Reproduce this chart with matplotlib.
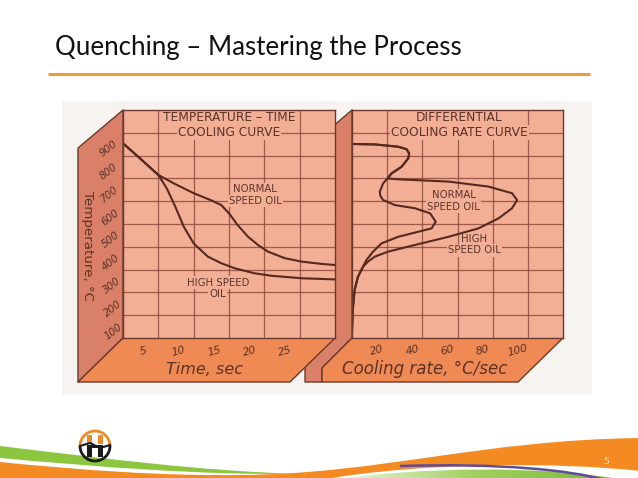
import matplotlib
matplotlib.use("Agg")
from matplotlib import pyplot as plt
from matplotlib.patches import Polygon, Rectangle, Arc, PathPatch
from matplotlib.path import Path
import numpy as np

W, H = 638, 478

# ---- data ----
time_ticks = [5, 10, 15, 20, 25]
rate_ticks = [20, 40, 60, 80, 100]
temp_ticks = [100, 200, 300, 400, 500, 600, 700, 800, 900]

# temperature-time curves (time s, temperature C)
normal_time = [0, 2.4, 5.0, 7.2, 10.0, 12.4, 13.9, 15.0, 16.2, 17.7, 19.1, 20.5, 22.9, 25.3, 28.1, 30]
normal_temp = [854, 788, 715, 678, 635, 605, 583, 547, 496, 444, 408, 379, 350, 335, 325, 320]
high_time = [0, 2.4, 5.0, 6.2, 7.4, 8.6, 10.0, 12.0, 13.9, 15.8, 18.6, 21.0, 25.3, 30]
high_temp = [854, 788, 715, 656, 576, 488, 415, 357, 328, 306, 284, 273, 262, 257]

# differential cooling rate curves (rate C/s, temperature C)
normal_rate = [0.6, 13, 26.3, 31, 32.5, 32, 28.2, 22.5, 20.2, 17.7, 15.8, 16.2, 17.7, 24.4, 35.8,
               44.4, 47.6, 45.3, 37.7, 26.3, 16.8, 12, 8.2, 6.3, 3.4, 1.5, 0.6, 0]
normal_rtemp = [851, 849, 839, 828, 810, 788, 751, 722, 700, 678, 642, 622, 605, 583, 569,
                547, 510, 481, 466, 444, 415, 379, 342, 313, 269, 211, 137, 35]
high_rate = [0.6, 13, 26.3, 31, 32.5, 32, 28.2, 22.5, 20.2, 26.3, 54.9, 77.7, 91, 93.9, 91, 83.4,
             72, 54.9, 35.8, 20.6, 13, 9.1, 6.3, 3.4, 1.5, 0.6, 0]
high_rtemp = [851, 849, 839, 828, 810, 788, 751, 722, 700, 696, 686, 664, 635, 605, 569, 525,
              481, 444, 408, 379, 357, 335, 313, 269, 211, 137, 35]

# ---- colours ----
back_c = "#F3AE96"
wall_c = "#DA8069"
floor_c = "#EF8A54"
edge_c = "#6B3A2C"
curve_c = "#55291F"
grid_c = "#8E4C3C"
text_c = "#5A3328"

fig = plt.figure(figsize=(W / 100, H / 100), dpi=100)
bg = fig.add_axes([0, 0, 1, 1])
bg.set_xlim(0, W)
bg.set_ylim(H, 0)
bg.axis("off")

# title
bg.text(55, 47, "Quenching \u2013 Mastering the Process", fontsize=18.6, family="Lato",
        color="#111111", va="center", ha="left")
bg.plot([48, 590], [74, 74], color="#EE9A3E", lw=2.2, solid_capstyle="butt")

# photo background
bg.add_patch(Rectangle((62, 101), 530, 294, facecolor="#F6F3F0", edgecolor="none"))


def poly(pts, fc):
    bg.add_patch(Polygon(pts, closed=True, facecolor=fc, edgecolor=edge_c, lw=1.0,
                         joinstyle="round"))


# right box (drawn first, partly hidden by the left one)
poly([(352, 110), (352, 338), (322, 368), (322, 382), (305, 382), (305, 150)], wall_c)
poly([(352, 338), (563, 338), (518, 382), (322, 382), (322, 368)], floor_c)
# left box
poly([(123, 110), (123, 338), (78, 382), (78, 148)], wall_c)
poly([(123, 338), (335, 338), (290, 382), (78, 382)], floor_c)


def panel(px0, px1, xmax, step):
    ax = fig.add_axes([px0 / W, (H - 338) / H, (px1 - px0) / W, 228 / H])
    ax.set_facecolor(back_c)
    ax.set_xlim(0, xmax)
    ax.set_ylim(0, 1000)
    ax.set_xticks(np.arange(step, xmax, step))
    ax.set_yticks(temp_ticks)
    ax.tick_params(length=0, labelbottom=False, labelleft=False)
    ax.grid(True, color=grid_c, lw=0.9, alpha=0.85)
    ax.set_axisbelow(True)
    for s in ax.spines.values():
        s.set_color(edge_c)
        s.set_linewidth(1.0)
    return ax


head = dict(fontsize=8.8, family="DejaVu Sans", color=text_c, ha="center", va="center",
            zorder=1.5, bbox=dict(facecolor=back_c, edgecolor="none", pad=0.8))
lab = dict(head, fontsize=7.3)

axl = panel(123, 335, 30, 5)
axl.plot(normal_time, normal_temp, color=curve_c, lw=1.5, solid_joinstyle="round")
axl.plot(high_time, high_temp, color=curve_c, lw=1.5, solid_joinstyle="round")
axl.text(15, 966, "TEMPERATURE \u2013 TIME", **head)
axl.text(15, 900, "COOLING CURVE", **head)
axl.text(18.7, 652, "NORMAL", **lab)
axl.text(18.7, 602, "SPEED OIL", **lab)
axl.text(13.4, 243, "HIGH SPEED", **lab)
axl.text(13.4, 195, "OIL", **lab)

axr = panel(352, 563, 120, 20)
axr.plot(normal_rate, normal_rtemp, color=curve_c, lw=1.5, solid_joinstyle="round")
axr.plot(high_rate, high_rtemp, color=curve_c, lw=1.5, solid_joinstyle="round")
axr.text(61, 966, "DIFFERENTIAL", **head)
axr.text(61, 900, "COOLING RATE CURVE", **head)
axr.text(57.7, 628, "NORMAL", **lab)
axr.text(57.7, 576, "SPEED OIL", **lab)
axr.text(69.7, 434, "HIGH", **lab)
axr.text(69.7, 384, "SPEED OIL", **lab)

# labels on the side wall
for v in temp_ticks:
    dx = -15 + (900 - v) / 800 * 5
    axl.annotate(str(v), xy=(0, v), xytext=(dx, -16), textcoords="offset pixels",
                 ha="center", va="center", rotation=38, fontsize=7.4, style="italic",
                 family="DejaVu Sans", color=text_c, annotation_clip=False)
bg.text(87, 246, "Temperature, \u00b0C", rotation=-90, fontsize=9.6, family="DejaVu Sans",
        color=text_c, ha="center", va="center")

# labels on the floors
for v in time_ticks:
    axl.annotate(str(v), xy=(v, 0), xytext=(-15, -13), textcoords="offset pixels",
                 ha="center", va="center", rotation=15, fontsize=7.8, style="italic",
                 family="DejaVu Sans", color=text_c, annotation_clip=False)
for v in rate_ticks:
    axr.annotate(str(v), xy=(v, 0), xytext=(-10, -12), textcoords="offset pixels",
                 ha="center", va="center", rotation=15, fontsize=7.8, style="italic",
                 family="DejaVu Sans", color=text_c, annotation_clip=False)
bg.text(205, 369, "Time, sec", fontsize=11.5, style="italic", family="DejaVu Sans",
        color=text_c, ha="center", va="center")
bg.text(425, 369, "Cooling rate, \u00b0C/sec", fontsize=12, style="italic",
        family="DejaVu Sans", color=text_c, ha="center", va="center")

# ---- footer swooshes ----
C4 = Path.CURVE4
green = Path([(0, 446), (100, 458), (200, 471), (300, 474),
              (200, 475), (100, 467), (0, 458), (0, 446)],
             [Path.MOVETO, C4, C4, C4, C4, C4, C4, Path.CLOSEPOLY])
bg.add_patch(PathPatch(green, facecolor="#8CC63F", edgecolor="none"))

orange = Path([(0, 462), (80, 470), (160, 476), (240, 475),
               (380, 474), (480, 440), (640, 438),
               (640, 471), (560, 462), (420, 462), (320, 480),
               (0, 480), (0, 462)],
              [Path.MOVETO, C4, C4, C4, C4, C4, C4, Path.LINETO, C4, C4, C4,
               Path.LINETO, Path.CLOSEPOLY])
bg.add_patch(PathPatch(orange, facecolor="#F38A22", edgecolor="none"))

green_r = Path([(330, 480), (420, 467), (540, 465), (625, 480), (330, 480)],
               [Path.MOVETO, C4, C4, C4, Path.CLOSEPOLY])
gp = PathPatch(green_r, facecolor="none", edgecolor="none")
bg.add_patch(gp)
grad = np.linspace(0, 1, 256).reshape(1, -1)
cmap = matplotlib.colors.LinearSegmentedColormap.from_list("g", ["#EEF6E2", "#A2CF5E", "#78B832"])
im = bg.imshow(grad, extent=(330, 625, 480, 464), aspect="auto", cmap=cmap, zorder=1)
im.set_clip_path(gp)

purple = Path([(400, 466), (500, 463), (570, 470), (605, 480)],
              [Path.MOVETO, C4, C4, C4])
bg.add_patch(PathPatch(purple, facecolor="none", edgecolor="#5E4B9C", lw=1.8, zorder=2))
bg.set_xlim(0, W)
bg.set_ylim(H, 0)

# logo
cx, cy, r = 95, 446, 15
bg.add_patch(Arc((cx, cy), 2 * r, 2 * r, theta1=180, theta2=360, color="#F08A24", lw=2))
bg.add_patch(Arc((cx, cy), 2 * r, 2 * r, theta1=0, theta2=180, color="#1A1A1A", lw=2))
bg.plot([cx - r, cx - 5, cx + 5, cx + r], [cy, cy - 3, cy + 2, cy - 1], color="#1A1A1A", lw=1.5)
bg.add_patch(Rectangle((cx - 8, cy - 11), 5, 9, facecolor="#F08A24", edgecolor="none"))
bg.add_patch(Rectangle((cx + 3, cy - 11), 5, 9, facecolor="#F08A24", edgecolor="none"))
bg.add_patch(Rectangle((cx - 8, cy + 1), 5, 10, facecolor="#1A1A1A", edgecolor="none"))
bg.add_patch(Rectangle((cx + 3, cy + 1), 5, 10, facecolor="#1A1A1A", edgecolor="none"))
bg.add_patch(Rectangle((cx - 8, cy - 1), 16, 3, facecolor="#1A1A1A", edgecolor="none"))

bg.text(606, 461, "5", fontsize=6.5, color="#FBE3C8", ha="center", va="center",
        family="DejaVu Sans")

fig.savefig("out.png", dpi=100)
